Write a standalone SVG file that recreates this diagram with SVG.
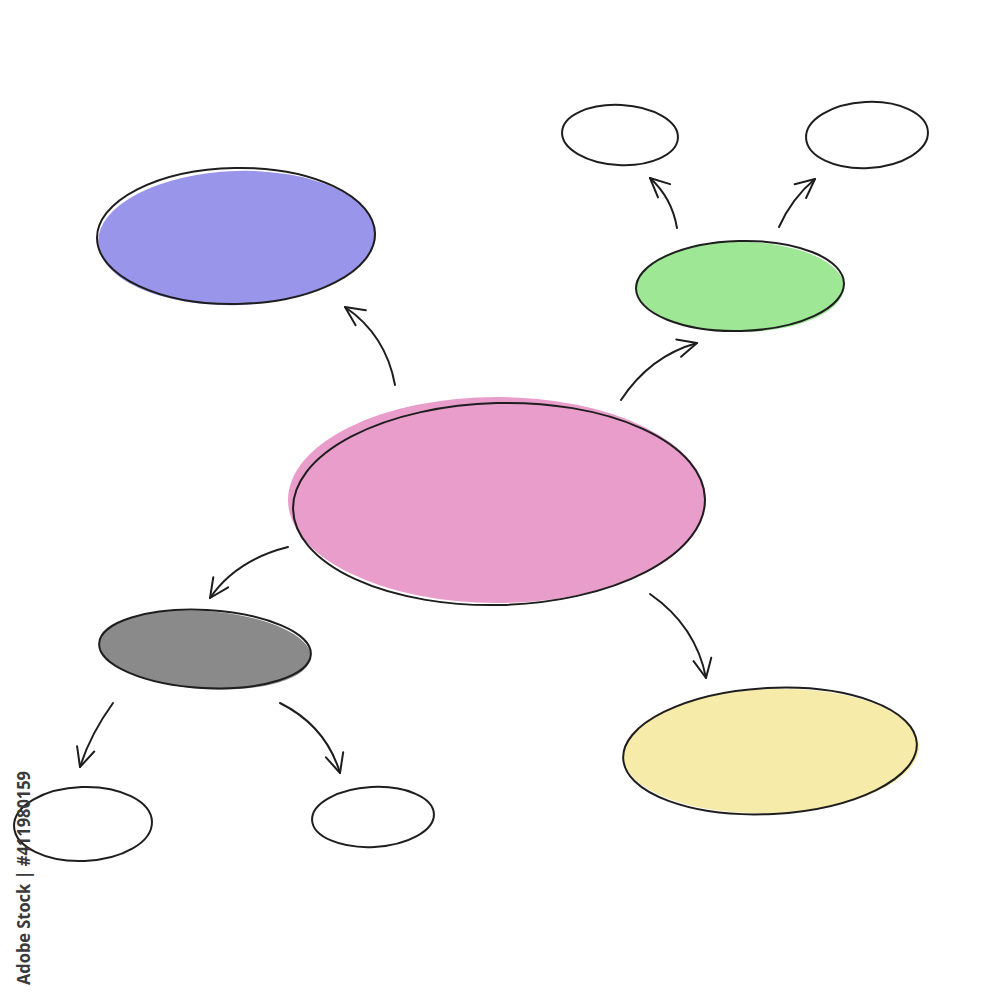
<svg xmlns="http://www.w3.org/2000/svg" width="1000" height="1000" viewBox="0 0 1000 1000">
<defs>
<style>
.ol{fill:none;stroke:#1e1e1e;stroke-width:2;stroke-linecap:round}
.olt{fill:none;stroke:#1e1e1e;stroke-width:1.2;stroke-opacity:0.6;stroke-linecap:round}
.ar{fill:none;stroke:#1e1e1e;stroke-width:2;stroke-linecap:round;marker-end:url(#ah)}
.lbl{font-family:"Open Sans","Liberation Sans",sans-serif;font-weight:bold;fill:#3a3a3a}
</style>
<marker id="ah" viewBox="-22 -12 24 24" refX="0" refY="0" markerWidth="24" markerHeight="24" markerUnits="userSpaceOnUse" orient="auto">
<path d="M-19,-9 L0,0 L-19,9" fill="none" stroke="#1e1e1e" stroke-width="2" stroke-linecap="round" stroke-linejoin="round"/>
</marker>
</defs>
<rect width="1000" height="1000" fill="#ffffff"/>

<g id="connectors">
<path class="ar" d="M395,385 Q386,335 345,307"/>
<path class="ar" d="M621,400 Q650,356 697,343"/>
<path class="ar" d="M677,228 Q672,198 650,178"/>
<path class="ar" d="M779,227 Q792,198 815,179"/>
<path class="ar" d="M288,547 Q236,560 210,598"/>
<path class="ar" d="M650,594 Q696,626 706,678"/>
<path class="ar" d="M113,703 Q90,735 80,767"/>
<path class="ar" d="M280,703 Q326,726 340,773"/>
</g>

<g id="node-center">
<ellipse cx="497" cy="500" rx="209" ry="103" fill="#e99dcb"/>
<ellipse class="ol" cx="499" cy="504" rx="206" ry="101" transform="rotate(-1.5 499 504)"/>
</g>

<g id="node-blue">
<ellipse cx="237" cy="238" rx="139" ry="67" fill="#9895eb" transform="rotate(-2 237 238)"/>
<ellipse class="ol" cx="236" cy="236" rx="139" ry="68" transform="rotate(-1 236 236)"/>
</g>

<g id="node-green">
<ellipse cx="740" cy="287" rx="104" ry="45" fill="#9de795"/>
<ellipse class="ol" cx="740" cy="286" rx="104" ry="45" transform="rotate(-1.5 740 286)" stroke="#2d6b2a"/>
</g>

<g id="node-top-left">
<ellipse class="ol" cx="620" cy="135" rx="58" ry="30" transform="rotate(3 620 135)"/>
</g>

<g id="node-top-right">
<ellipse class="ol" cx="867" cy="135" rx="61" ry="33" transform="rotate(-3 867 135)"/>
</g>

<g id="node-gray">
<ellipse cx="205" cy="650" rx="106" ry="39" fill="#8a8a8a" transform="rotate(4 205 650)"/>
<ellipse class="ol" cx="205" cy="649" rx="106" ry="39" transform="rotate(3 205 649)"/>
</g>

<g id="node-yellow">
<ellipse cx="771" cy="751" rx="148" ry="62" fill="#f6eba8" transform="rotate(-2 771 751)"/>
<ellipse class="ol" cx="770" cy="751" rx="147" ry="63" transform="rotate(-3 770 751)"/>
</g>

<g id="node-bottom-left">
<ellipse class="ol" cx="83" cy="824" rx="69" ry="37" transform="rotate(-2 83 824)"/>
</g>

<g id="node-bottom-right">
<ellipse class="ol" cx="373" cy="817" rx="61" ry="30" transform="rotate(-3 373 817)"/>
</g>

<text class="lbl" font-size="17" transform="translate(30,985) rotate(-90)" textLength="214" lengthAdjust="spacingAndGlyphs">Adobe Stock | #411980159</text>
</svg>
